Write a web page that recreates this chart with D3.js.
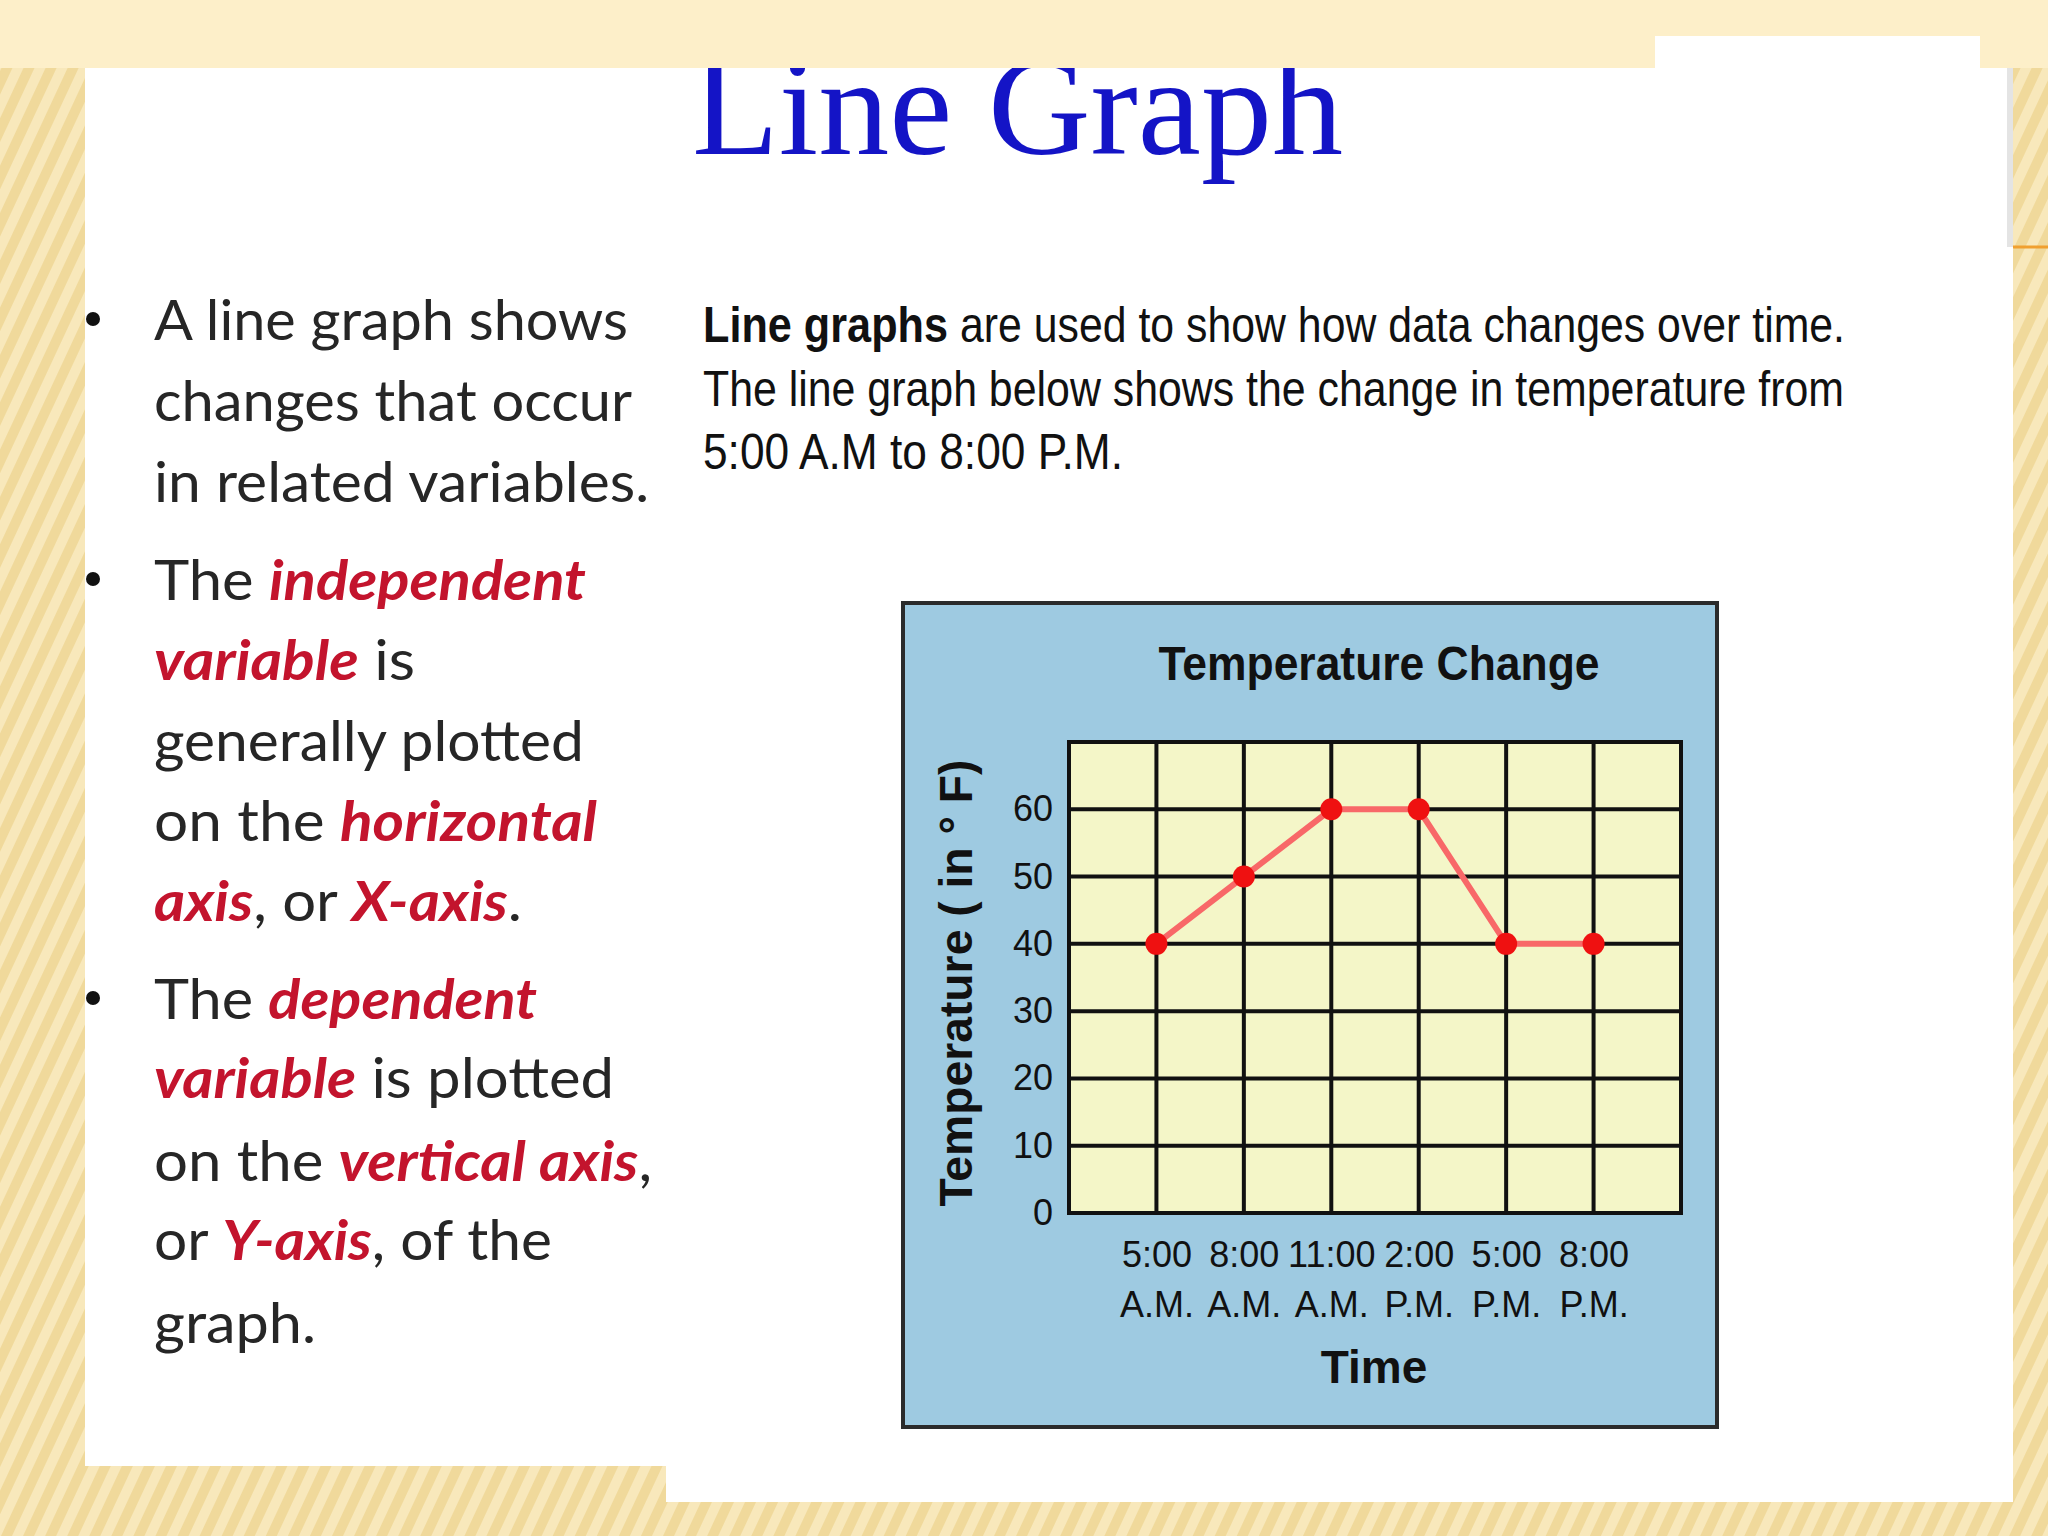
<!DOCTYPE html>
<html>
<head>
    <title>Line Graph - Temperature Change</title>
    <style>
        body { margin: 0; background: #fdefc9; }
        svg { display: block; }
        .narrow { font-family: "Liberation Sans Narrow", "Arial Narrow", "Liberation Sans", Arial, sans-serif; }
        .tick text { font-family: "Liberation Sans Narrow", "Arial Narrow", "Liberation Sans", Arial, sans-serif; }
    </style>
</head>
<body>
    <div id="slide"></div>

    <script src="https://d3js.org/d3.v7.min.js"></script>
    <script>
        // chart data
        var times = ["5:00 A.M.", "8:00 A.M.", "11:00 A.M.", "2:00 P.M.", "5:00 P.M.", "8:00 P.M."];
        var temps = [40, 50, 60, 60, 40, 40];
        var yTicks = [0, 10, 20, 30, 40, 50, 60];
        var gridRows = [0, 10, 20, 30, 40, 50, 60, 70];

        // slide text
        var bullets = [
            [[["A line graph shows", 0]], [["changes that occur", 0]], [["in related variables.", 0]]],
            [[["The ", 0], ["independent", 1]], [["variable", 1], [" is", 0]], [["generally plotted", 0]],
             [["on the ", 0], ["horizontal", 1]], [["axis", 1], [", or ", 0], ["X-axis", 1], [".", 0]]],
            [[["The ", 0], ["dependent", 1]], [["variable", 1], [" is plotted", 0]], [["on the ", 0], ["vertical axis", 1], [",", 0]],
             [["or ", 0], ["Y-axis", 1], [", of the", 0]], [["graph.", 0]]]
        ];
        var bulletWidths = [[474, 478, 495], [432, 261, 430, 443, 368], [383, 460, 498, 398, 162]];
        var bulletBase = [[340, 421, 502], [600, 680, 761, 841, 921], [1019, 1098, 1181, 1260, 1343]];

        var W = 2048, H = 1536;
        var svg = d3.select("#slide").append("svg")
            .attr("width", W)
            .attr("height", H);

        var defs = svg.append("defs");
        // diagonal stripes of the slide background
        var pat = defs.append("pattern")
            .attr("id", "stripes")
            .attr("patternUnits", "userSpaceOnUse")
            .attr("width", 20).attr("height", 20)
            .attr("patternTransform", "rotate(25)");
        pat.append("rect").attr("width", 20).attr("height", 20).attr("fill", "#f0d99b");
        pat.append("rect").attr("width", 10).attr("height", 20).attr("fill", "#f8e8bb");

        defs.append("clipPath").attr("id", "titleClip")
            .append("rect").attr("x", 0).attr("y", 68).attr("width", W).attr("height", 200);

        // background
        svg.append("rect").attr("width", W).attr("height", H).attr("fill", "url(#stripes)");
        svg.append("rect").attr("width", W).attr("height", 68).attr("fill", "#fdefc9");

        // white slide panels
        svg.append("rect").attr("x", 85).attr("y", 68).attr("width", 600).attr("height", 1398).attr("fill", "#ffffff");
        svg.append("rect").attr("x", 666).attr("y", 68).attr("width", 1347).attr("height", 1434).attr("fill", "#ffffff");
        svg.append("rect").attr("x", 1655).attr("y", 36).attr("width", 325).attr("height", 40).attr("fill", "#ffffff");
        svg.append("rect").attr("x", 2007).attr("y", 68).attr("width", 6).attr("height", 179).attr("fill", "#e4e4e4");
        svg.append("line").attr("x1", 2013).attr("x2", W).attr("y1", 247).attr("y2", 247)
            .attr("stroke", "#f0a030").attr("stroke-width", 3);

        // title
        svg.append("text")
            .attr("x", 692).attr("y", 154)
            .attr("clip-path", "url(#titleClip)")
            .attr("textLength", 651).attr("lengthAdjust", "spacingAndGlyphs")
            .style("font-family", "'Liberation Serif', 'DejaVu Serif', serif")
            .style("font-size", "140px")
            .attr("fill", "#1414c6")
            .text("Line Graph");

        // left bullets
        var left = svg.append("g").style("font-family", "Lato, 'Open Sans', sans-serif").style("font-size", "56px");
        bullets.forEach(function (b, bi) {
            left.append("circle").attr("cx", 93).attr("cy", bulletBase[bi][0] - 21).attr("r", 7).attr("fill", "#111");
            b.forEach(function (line, li) {
                var t = left.append("text")
                    .attr("x", 154).attr("y", bulletBase[bi][li])
                    .attr("textLength", bulletWidths[bi][li]).attr("lengthAdjust", "spacingAndGlyphs");
                line.forEach(function (seg) {
                    t.append("tspan")
                        .attr("fill", seg[1] ? "#c3142d" : "#262626")
                        .style("font-weight", seg[1] ? "bold" : "normal")
                        .style("font-style", seg[1] ? "italic" : "normal")
                        .text(seg[0]);
                });
            });
        });

        // paragraph on the right
        var para = svg.append("g").attr("class", "narrow").style("font-size", "50px").attr("fill", "#111");
        para.append("text").attr("x", 703).attr("y", 342)
            .attr("textLength", 245).attr("lengthAdjust", "spacingAndGlyphs")
            .style("font-weight", "bold")
            .text("Line graphs");
        para.append("text").attr("x", 960).attr("y", 342)
            .attr("textLength", 885).attr("lengthAdjust", "spacingAndGlyphs")
            .text("are used to show how data changes over time.");
        para.append("text").attr("x", 703).attr("y", 406)
            .attr("textLength", 1141).attr("lengthAdjust", "spacingAndGlyphs")
            .text("The line graph below shows the change in temperature from");
        para.append("text").attr("x", 703).attr("y", 469)
            .attr("textLength", 420).attr("lengthAdjust", "spacingAndGlyphs")
            .text("5:00 A.M to 8:00 P.M.");

        // chart panel
        svg.append("rect")
            .attr("x", 903).attr("y", 603).attr("width", 814).attr("height", 824)
            .attr("fill", "#9ecae1").attr("stroke", "#2b2b2b").attr("stroke-width", 4);

        var x0 = 1069, x1 = 1681, yBottom = 1213, yTop = 742;
        var x = d3.scalePoint().domain(times).range([x0, x1]).padding(1);
        var y = d3.scaleLinear().domain([0, 70]).range([yBottom, yTop]);

        var plot = svg.append("g");
        plot.append("rect")
            .attr("x", x0).attr("y", yTop).attr("width", x1 - x0).attr("height", yBottom - yTop)
            .attr("fill", "#f4f6c8");

        plot.selectAll(".hgrid").data(gridRows).enter().append("line")
            .attr("class", "hgrid")
            .attr("x1", x0).attr("x2", x1)
            .attr("y1", function (d) { return y(d); }).attr("y2", function (d) { return y(d); })
            .attr("stroke", "#111").attr("stroke-width", 4);
        plot.selectAll(".vgrid").data(times).enter().append("line")
            .attr("class", "vgrid")
            .attr("x1", function (d) { return x(d); }).attr("x2", function (d) { return x(d); })
            .attr("y1", yTop).attr("y2", yBottom)
            .attr("stroke", "#111").attr("stroke-width", 4);
        plot.append("rect")
            .attr("x", x0).attr("y", yTop).attr("width", x1 - x0).attr("height", yBottom - yTop)
            .attr("fill", "none").attr("stroke", "#111").attr("stroke-width", 4);

        // axes (labels only)
        var yAxis = svg.append("g")
            .attr("transform", "translate(" + x0 + ",0)")
            .call(d3.axisLeft(y).tickValues(yTicks).tickSize(0).tickPadding(16));
        yAxis.select(".domain").remove();
        yAxis.selectAll("text").style("font-size", "36px").attr("fill", "#111");

        var xAxis = svg.append("g")
            .attr("transform", "translate(0," + yBottom + ")")
            .call(d3.axisBottom(x).tickSize(0));
        xAxis.select(".domain").remove();
        xAxis.selectAll("text").each(function (d) {
            var parts = d.split(" ");
            var t = d3.select(this).text(null).attr("y", 0).attr("dy", null)
                .style("font-size", "36px").attr("fill", "#111");
            t.append("tspan").attr("x", 0).attr("y", 54).text(parts[0]);
            t.append("tspan").attr("x", 0).attr("y", 104).text(parts[1]);
        });

        // line + points
        var line = d3.line()
            .x(function (d, i) { return x(times[i]); })
            .y(function (d) { return y(d); });
        plot.append("path")
            .datum(temps)
            .attr("d", line)
            .attr("fill", "none")
            .attr("stroke", "#f86868")
            .attr("stroke-width", 6);
        plot.selectAll(".dot").data(temps).enter().append("circle")
            .attr("class", "dot")
            .attr("cx", function (d, i) { return x(times[i]); })
            .attr("cy", function (d) { return y(d); })
            .attr("r", 11)
            .attr("fill", "#ef1111");

        // chart titles
        svg.append("text").attr("class", "narrow")
            .attr("x", 1379).attr("y", 680).attr("text-anchor", "middle")
            .attr("textLength", 441).attr("lengthAdjust", "spacingAndGlyphs")
            .style("font-size", "48px").style("font-weight", "bold").attr("fill", "#111")
            .text("Temperature Change");
        svg.append("text").attr("class", "narrow")
            .attr("x", 1374).attr("y", 1383).attr("text-anchor", "middle")
            .style("font-size", "46px").style("font-weight", "bold").attr("fill", "#111")
            .text("Time");
        svg.append("text").attr("class", "narrow")
            .attr("transform", "translate(972,983) rotate(-90)")
            .attr("text-anchor", "middle")
            .attr("textLength", 447).attr("lengthAdjust", "spacingAndGlyphs")
            .style("font-size", "46px").style("font-weight", "bold").attr("fill", "#111")
            .text("Temperature ( in ° F)");
    </script>
</body>
</html>
